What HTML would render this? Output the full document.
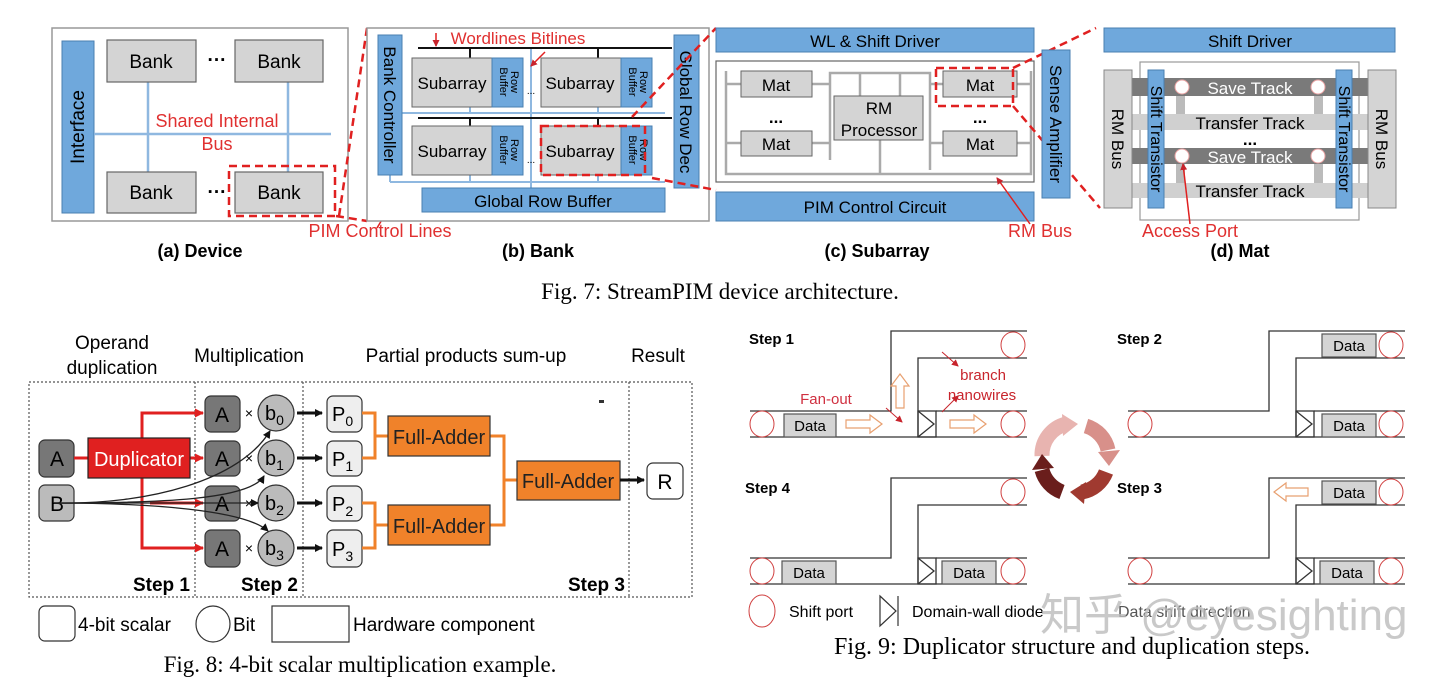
<!DOCTYPE html>
<html><head><meta charset="utf-8"><style>
html,body{margin:0;padding:0;background:#fff;}
svg{display:block;font-family:"Liberation Sans","Noto Sans CJK SC",sans-serif;}
</style></head><body>
<svg width="1440" height="681" viewBox="0 0 1440 681" xmlns="http://www.w3.org/2000/svg">
<defs>
<marker id="ab" markerWidth="8" markerHeight="8" refX="7" refY="4" orient="auto" markerUnits="userSpaceOnUse"><path d="M0,0L8,4L0,8z" fill="#111"/></marker>
<marker id="ar" markerWidth="9" markerHeight="9" refX="8" refY="4.5" orient="auto" markerUnits="userSpaceOnUse"><path d="M0,0L9,4.5L0,9z" fill="#e02020"/></marker>
<marker id="ar2" markerWidth="7" markerHeight="7" refX="6" refY="3.5" orient="auto" markerUnits="userSpaceOnUse"><path d="M0,0L7,3.5L0,7z" fill="#c8242c"/></marker>
</defs>
<!-- ===== (a) Device ===== -->
<rect x="52" y="28" width="296" height="193" fill="#fff" stroke="#999" stroke-width="1.5"/>
<rect x="62" y="41" width="32" height="172" fill="#6fa8dc" stroke="#4a7fb0"/>
<text transform="translate(84,127) rotate(-90)" text-anchor="middle" font-size="19">Interface</text>
<g stroke="#8fb8e0" stroke-width="2.5"><line x1="94" y1="134" x2="331" y2="134"/><line x1="148" y1="82" x2="148" y2="172"/><line x1="288" y1="82" x2="288" y2="172"/></g>
<g fill="#d4d4d4" stroke="#666" stroke-width="1.2">
<rect x="107" y="40" width="89" height="42"/><rect x="235" y="40" width="88" height="42"/>
<rect x="107" y="172" width="89" height="41"/><rect x="235" y="172" width="88" height="41"/></g>
<g font-size="19" text-anchor="middle"><text x="151" y="68">Bank</text><text x="279" y="68">Bank</text><text x="151" y="199">Bank</text><text x="279" y="199">Bank</text>
<text x="217" y="66" font-weight="bold">···</text><text x="217" y="198" font-weight="bold">···</text></g>
<text x="217" y="127" text-anchor="middle" font-size="18" fill="#e03030">Shared Internal</text>
<text x="217" y="150" text-anchor="middle" font-size="18" fill="#e03030">Bus</text>
<rect x="229" y="166" width="106" height="50" fill="none" stroke="#e02020" stroke-width="2.5" stroke-dasharray="8,5"/>
<g stroke="#e02020" stroke-width="2.5" stroke-dasharray="8,5" fill="none"><line x1="367" y1="28" x2="339" y2="216"/><line x1="336" y1="216" x2="367" y2="221"/></g>
<text x="380" y="237" text-anchor="middle" font-size="18" fill="#e03030">PIM Control Lines</text>
<line x1="377" y1="228" x2="404" y2="183" stroke="#e02020" stroke-width="1.5" marker-end="url(#ar2)"/>
<text x="200" y="257" text-anchor="middle" font-size="18" font-weight="bold">(a) Device</text>
<!-- ===== (b) Bank ===== -->
<rect x="367" y="28" width="342" height="193" fill="#fff" stroke="#999" stroke-width="1.5"/>
<g stroke="#8fb8e0" stroke-width="2"><line x1="402" y1="113" x2="665" y2="113"/><line x1="390" y1="175" x2="390" y2="182"/><line x1="390" y1="182" x2="665" y2="182"/><line x1="531" y1="48" x2="531" y2="188"/><line x1="470" y1="107" x2="470" y2="113"/><line x1="598" y1="107" x2="598" y2="113"/><line x1="470" y1="175" x2="470" y2="182"/><line x1="598" y1="175" x2="598" y2="182"/></g>
<rect x="378" y="35" width="24" height="140" fill="#6fa8dc" stroke="#4a7fb0"/>
<text transform="translate(384,105) rotate(90)" text-anchor="middle" font-size="17">Bank Controller</text>
<rect x="674" y="35" width="25" height="153" fill="#6fa8dc" stroke="#4a7fb0"/>
<text transform="translate(680,112) rotate(90)" text-anchor="middle" font-size="17">Global Row Dec</text>
<rect x="422" y="188" width="243" height="24" fill="#6fa8dc" stroke="#4a7fb0"/>
<text x="543" y="207" text-anchor="middle" font-size="17">Global Row Buffer</text>
<g stroke="#111" stroke-width="2"><line x1="418" y1="48" x2="672" y2="48"/><line x1="418" y1="118" x2="672" y2="118"/><line x1="470" y1="48" x2="470" y2="58"/><line x1="598" y1="48" x2="598" y2="58"/><line x1="470" y1="118" x2="470" y2="126"/><line x1="598" y1="118" x2="598" y2="126"/></g>
<g fill="#d4d4d4" stroke="#666"><rect x="412" y="58" width="80" height="49"/><rect x="541" y="58" width="80" height="49"/><rect x="412" y="126" width="80" height="49"/><rect x="541" y="126" width="80" height="49"/></g>
<g fill="#6fa8dc" stroke="#4a7fb0"><rect x="492" y="58" width="31" height="49"/><rect x="621" y="58" width="31" height="49"/><rect x="492" y="126" width="31" height="49"/><rect x="621" y="126" width="31" height="49"/></g>
<g font-size="17" text-anchor="middle"><text x="452" y="89">Subarray</text><text x="580" y="89">Subarray</text><text x="452" y="157">Subarray</text><text x="580" y="157">Subarray</text></g>
<g font-size="11" text-anchor="middle">
<text transform="translate(511,82) rotate(90)">Row</text><text transform="translate(500,82) rotate(90)">Buffer</text>
<text transform="translate(640,82) rotate(90)">Row</text><text transform="translate(629,82) rotate(90)">Buffer</text>
<text transform="translate(511,150) rotate(90)">Row</text><text transform="translate(500,150) rotate(90)">Buffer</text>
<text transform="translate(640,150) rotate(90)">Row</text><text transform="translate(629,150) rotate(90)">Buffer</text></g>
<text x="531" y="94" text-anchor="middle" font-size="10">...</text><text x="531" y="163" text-anchor="middle" font-size="10">...</text>
<text x="518" y="44" text-anchor="middle" font-size="17" fill="#e03030">Wordlines Bitlines</text>
<line x1="436" y1="33" x2="436" y2="46" stroke="#e02020" stroke-width="1.5" marker-end="url(#ar2)"/>
<line x1="545" y1="52" x2="531" y2="66" stroke="#e02020" stroke-width="1.5" marker-end="url(#ar2)"/>
<rect x="541" y="126" width="104" height="49" fill="none" stroke="#e02020" stroke-width="2.5" stroke-dasharray="8,5"/>
<g stroke="#e02020" stroke-width="2.5" stroke-dasharray="8,5" fill="none"><line x1="632" y1="117" x2="716" y2="28"/><line x1="652" y1="178" x2="716" y2="190"/></g>
<text x="538" y="257" text-anchor="middle" font-size="18" font-weight="bold">(b) Bank</text>
<!-- ===== (c) Subarray ===== -->
<rect x="716" y="28" width="318" height="24" fill="#6fa8dc" stroke="#4a7fb0"/>
<text x="875" y="47" text-anchor="middle" font-size="17">WL &amp; Shift Driver</text>
<rect x="716" y="61" width="318" height="121" fill="#fff" stroke="#666" stroke-width="1.2"/>
<g stroke="#aaa" stroke-width="2.5" fill="none">
<path d="M726,71V174H1031V71"/><line x1="726" y1="84" x2="741" y2="84"/><line x1="726" y1="143" x2="741" y2="143"/>
<line x1="812" y1="84" x2="830" y2="84"/><line x1="812" y1="143" x2="830" y2="143"/>
<path d="M830,160V73H930V170"/><line x1="860" y1="73" x2="860" y2="96"/><line x1="900" y1="73" x2="900" y2="96"/><line x1="880" y1="140" x2="880" y2="174"/>
<line x1="930" y1="84" x2="943" y2="84"/><line x1="930" y1="143" x2="943" y2="143"/><line x1="1017" y1="84" x2="1031" y2="84"/><line x1="1017" y1="143" x2="1031" y2="143"/></g>
<g fill="#d4d4d4" stroke="#666"><rect x="741" y="71" width="71" height="26"/><rect x="741" y="131" width="71" height="25"/><rect x="943" y="71" width="74" height="26"/><rect x="943" y="131" width="74" height="25"/><rect x="834" y="96" width="89" height="44"/></g>
<g font-size="17" text-anchor="middle"><text x="776" y="91">Mat</text><text x="776" y="150">Mat</text><text x="980" y="91">Mat</text><text x="980" y="150">Mat</text><text x="879" y="114">RM</text><text x="879" y="136">Processor</text>
<text x="776" y="123" font-weight="bold">...</text><text x="980" y="123" font-weight="bold">...</text></g>
<rect x="936" y="68" width="77" height="38" fill="none" stroke="#e02020" stroke-width="2.5" stroke-dasharray="8,5"/>
<g stroke="#e02020" stroke-width="2.5" stroke-dasharray="8,5" fill="none"><line x1="1013" y1="68" x2="1096" y2="28"/><line x1="1013" y1="106" x2="1100" y2="208"/></g>
<rect x="716" y="192" width="318" height="29" fill="#6fa8dc" stroke="#4a7fb0"/>
<text x="875" y="213" text-anchor="middle" font-size="17">PIM Control Circuit</text>
<rect x="1042" y="50" width="28" height="148" fill="#6fa8dc" stroke="#4a7fb0"/>
<text transform="translate(1050,124) rotate(90)" text-anchor="middle" font-size="17">Sense Amplifier</text>
<text x="1040" y="237" text-anchor="middle" font-size="18" fill="#e03030">RM Bus</text>
<line x1="1030" y1="224" x2="997" y2="178" stroke="#e02020" stroke-width="1.5" marker-end="url(#ar2)"/>
<text x="877" y="257" text-anchor="middle" font-size="18" font-weight="bold">(c) Subarray</text>
<!-- ===== (d) Mat ===== -->
<rect x="1104" y="28" width="291" height="24" fill="#6fa8dc" stroke="#4a7fb0"/>
<text x="1250" y="47" text-anchor="middle" font-size="17">Shift Driver</text>
<rect x="1140" y="62" width="219" height="158" fill="#fff" stroke="#999" stroke-width="1.2"/>
<g fill="#bbb"><rect x="1176" y="96" width="9" height="18"/><rect x="1314" y="96" width="9" height="18"/><rect x="1176" y="164" width="9" height="19"/><rect x="1314" y="164" width="9" height="19"/></g>
<g fill="#7a7a7a"><rect x="1132" y="78" width="236" height="18"/><rect x="1132" y="148" width="236" height="16"/></g>
<g fill="#d0d0d0"><rect x="1132" y="114" width="236" height="16"/><rect x="1132" y="183" width="236" height="15"/></g>
<rect x="1104" y="70" width="28" height="138" fill="#d4d4d4" stroke="#888"/>
<rect x="1368" y="70" width="28" height="138" fill="#d4d4d4" stroke="#888"/>
<rect x="1148" y="70" width="16" height="138" fill="#6fa8dc" stroke="#4a7fb0"/>
<rect x="1336" y="70" width="16" height="138" fill="#6fa8dc" stroke="#4a7fb0"/>
<g fill="#fff" stroke="#e8a0a0"><circle cx="1182" cy="87" r="7"/><circle cx="1318" cy="87" r="7"/><circle cx="1182" cy="156" r="7"/><circle cx="1318" cy="156" r="7"/></g>
<g font-size="17" text-anchor="middle"><text x="1250" y="94" fill="#fff">Save Track</text><text x="1250" y="163" fill="#fff">Save Track</text><text x="1250" y="129">Transfer Track</text><text x="1250" y="197">Transfer Track</text><text x="1250" y="145" font-weight="bold">...</text></g>
<g font-size="16" text-anchor="middle"><text transform="translate(1151,139) rotate(90)">Shift Transistor</text><text transform="translate(1339,139) rotate(90)">Shift Transistor</text>
<text transform="translate(1112,139) rotate(90)" font-size="17">RM Bus</text><text transform="translate(1376,139) rotate(90)" font-size="17">RM Bus</text></g>
<text x="1190" y="237" text-anchor="middle" font-size="18" fill="#e03030">Access Port</text>
<line x1="1190" y1="224" x2="1183" y2="164" stroke="#e02020" stroke-width="1.5" marker-end="url(#ar2)"/>
<text x="1240" y="257" text-anchor="middle" font-size="18" font-weight="bold">(d) Mat</text>
<text x="720" y="299" text-anchor="middle" font-size="23" font-family="Liberation Serif, serif">Fig. 7: StreamPIM device architecture.</text>

<!-- ===== Fig 8 ===== -->
<g font-size="19" text-anchor="middle"><text x="112" y="349">Operand</text><text x="112" y="374">duplication</text><text x="249" y="362">Multiplication</text><text x="466" y="362">Partial products sum-up</text><text x="658" y="362">Result</text></g>
<g stroke="#555" stroke-width="1.2" stroke-dasharray="2,2" fill="none"><rect x="29" y="382" width="663" height="215"/><line x1="195" y1="382" x2="195" y2="597"/><line x1="303" y1="382" x2="303" y2="597"/><line x1="629" y1="382" x2="629" y2="597"/></g>
<rect x="39" y="440" width="35" height="37" rx="6" fill="#777" stroke="#333" stroke-width="1.2"/>
<rect x="39" y="485" width="35" height="36" rx="6" fill="#bbb" stroke="#333" stroke-width="1.2"/>
<g font-size="21" text-anchor="middle"><text x="57" y="466">A</text><text x="57" y="511">B</text></g>
<g stroke="#e02020" stroke-width="3" fill="none"><line x1="74" y1="458" x2="88" y2="458"/><path d="M142,438V413H203" marker-end="url(#ar)"/><path d="M142,478V548H203" marker-end="url(#ar)"/><line x1="190" y1="458" x2="203" y2="458" marker-end="url(#ar)"/><line x1="150" y1="503" x2="203" y2="503" marker-end="url(#ar)"/></g>
<rect x="88" y="438" width="102" height="40" fill="#e02020" stroke="#222" stroke-width="1.2"/>
<text x="139" y="466" text-anchor="middle" font-size="20" fill="#fff">Duplicator</text>
<g fill="#777" stroke="#333" stroke-width="1.2"><rect x="205" y="396" width="35" height="36" rx="6"/><rect x="205" y="441" width="35" height="35" rx="6"/><rect x="205" y="486" width="35" height="35" rx="6"/><rect x="205" y="530" width="35" height="37" rx="6"/></g>
<g font-size="21" text-anchor="middle"><text x="222" y="422">A</text><text x="222" y="466">A</text><text x="222" y="511">A</text><text x="222" y="556">A</text></g>
<g font-size="14" text-anchor="middle"><text x="249" y="418">×</text><text x="249" y="463">×</text><text x="249" y="508">×</text><text x="249" y="553">×</text></g>
<g fill="#bbb" stroke="#333" stroke-width="1.2"><circle cx="276" cy="413" r="18"/><circle cx="276" cy="458" r="18"/><circle cx="276" cy="503" r="18"/><circle cx="276" cy="548" r="18"/></g>
<g font-size="20"><text x="265" y="420">b<tspan font-size="14" dy="5">0</tspan></text><text x="265" y="465">b<tspan font-size="14" dy="5">1</tspan></text><text x="265" y="510">b<tspan font-size="14" dy="5">2</tspan></text><text x="265" y="555">b<tspan font-size="14" dy="5">3</tspan></text></g>
<g stroke="#222" stroke-width="1.3" fill="none"><path d="M54,503C150,505 240,480 270,431" marker-end="url(#ab)"/><path d="M54,503C160,503 250,500 264,476" marker-end="url(#ab)"/><line x1="54" y1="503" x2="258" y2="503" marker-end="url(#ab)"/><path d="M54,503C150,503 245,510 268,531" marker-end="url(#ab)"/></g>
<g stroke="#111" stroke-width="3"><line x1="297" y1="413" x2="322" y2="413" marker-end="url(#ab)"/><line x1="297" y1="458" x2="322" y2="458" marker-end="url(#ab)"/><line x1="297" y1="503" x2="322" y2="503" marker-end="url(#ab)"/><line x1="297" y1="548" x2="322" y2="548" marker-end="url(#ab)"/></g>
<g fill="#eee" stroke="#333" stroke-width="1.2"><rect x="327" y="396" width="35" height="36" rx="6"/><rect x="327" y="441" width="35" height="35" rx="6"/><rect x="327" y="486" width="35" height="35" rx="6"/><rect x="327" y="530" width="35" height="37" rx="6"/></g>
<g font-size="20"><text x="332" y="421">P<tspan font-size="14" dy="5">0</tspan></text><text x="332" y="466">P<tspan font-size="14" dy="5">1</tspan></text><text x="332" y="511">P<tspan font-size="14" dy="5">2</tspan></text><text x="332" y="556">P<tspan font-size="14" dy="5">3</tspan></text></g>
<g stroke="#f0822a" stroke-width="3" fill="none"><path d="M362,413H375V458H362"/><line x1="375" y1="436" x2="388" y2="436"/><path d="M362,503H375V548H362"/><line x1="375" y1="525" x2="388" y2="525"/><path d="M490,436H504V525H490"/><line x1="504" y1="480" x2="517" y2="480"/></g>
<g fill="#f0822a" stroke="#333" stroke-width="1.2"><rect x="388" y="416" width="102" height="40"/><rect x="388" y="505" width="102" height="40"/><rect x="517" y="461" width="103" height="39"/></g>
<g font-size="20" text-anchor="middle" fill="#222"><text x="439" y="444">Full-Adder</text><text x="439" y="533">Full-Adder</text><text x="568" y="488">Full-Adder</text></g>
<line x1="620" y1="480" x2="644" y2="480" stroke="#111" stroke-width="3" marker-end="url(#ab)"/>
<rect x="647" y="463" width="36" height="36" rx="6" fill="#fff" stroke="#333" stroke-width="1.2"/>
<text x="665" y="489" text-anchor="middle" font-size="21">R</text>
<rect x="599" y="400" width="5" height="3" fill="#333"/>
<g font-size="19" font-weight="bold" text-anchor="end"><text x="190" y="591">Step 1</text><text x="298" y="591">Step 2</text><text x="625" y="591">Step 3</text></g>
<rect x="39" y="606" width="36" height="35" rx="6" fill="#fff" stroke="#333" stroke-width="1.2"/>
<text x="78" y="631" font-size="19">4-bit scalar</text>
<ellipse cx="213" cy="624" rx="17" ry="18" fill="#fff" stroke="#333" stroke-width="1.2"/>
<text x="233" y="631" font-size="19">Bit</text>
<rect x="272" y="606" width="77" height="36" fill="#fff" stroke="#333" stroke-width="1.2"/>
<text x="353" y="631" font-size="19">Hardware component</text>
<text x="360" y="672" text-anchor="middle" font-size="23" font-family="Liberation Serif, serif">Fig. 8: 4-bit scalar multiplication example.</text>

<!-- ===== Fig 9 ===== -->
<g id="nw">
<g stroke="#333" stroke-width="1.3" fill="none"><path d="M750,411H891V331H1027"/><line x1="750" y1="437" x2="1027" y2="437"/><path d="M918,437V358H1027"/><path d="M936,411H1027"/><rect x="918" y="411" width="18" height="26"/><path d="M918,411L934,424L918,437"/></g>
<g fill="#fff" stroke="#d04040" stroke-width="1"><ellipse cx="762" cy="424" rx="12" ry="13"/><ellipse cx="1013" cy="424" rx="12" ry="13"/><ellipse cx="1013" cy="345" rx="12" ry="13"/></g>
</g>
<use href="#nw" x="378" y="0"/>
<use href="#nw" x="378" y="147"/>
<use href="#nw" x="0" y="147"/>
<g font-size="15" font-weight="bold"><text x="749" y="344">Step 1</text><text x="1117" y="344">Step 2</text><text x="745" y="493">Step 4</text><text x="1117" y="493">Step 3</text></g>
<g fill="#d4d4d4" stroke="#555" stroke-width="1.2"><rect x="784" y="414" width="52" height="23"/><rect x="1322" y="334" width="54" height="23"/><rect x="1322" y="414" width="54" height="23"/><rect x="1322" y="481" width="54" height="23"/><rect x="1320" y="561" width="54" height="23"/><rect x="782" y="561" width="54" height="23"/><rect x="942" y="561" width="54" height="23"/></g>
<g font-size="15" text-anchor="middle"><text x="810" y="431">Data</text><text x="1349" y="351">Data</text><text x="1349" y="431">Data</text><text x="1349" y="498">Data</text><text x="1347" y="578">Data</text><text x="809" y="578">Data</text><text x="969" y="578">Data</text></g>
<g fill="#fff" stroke="#e8a070" stroke-width="1.2"><path d="M846,420H870V415L882,424L870,433V428H846Z"/><path d="M950,420H974V415L986,424L974,433V428H950Z"/><path d="M896,408V386H891L900,374L909,386H904V408Z"/><path d="M1308,488H1286V483L1274,492L1286,501V496H1308Z"/></g>
<text x="826" y="404" text-anchor="middle" font-size="15" fill="#d03040">Fan-out</text>
<text x="983" y="380" text-anchor="middle" font-size="15" fill="#c8242c">branch</text>
<text x="982" y="400" text-anchor="middle" font-size="15" fill="#c8242c">nanowires</text>
<g stroke="#c8242c" stroke-width="1" marker-end="url(#ar2)"><line x1="886" y1="408" x2="902" y2="422"/><line x1="942" y1="352" x2="958" y2="366"/><line x1="942" y1="412" x2="958" y2="396"/></g>
<!-- cycle -->
<g stroke-width="15" fill="none">
<path d="M1042,456A32,32 0 0 1 1066,424" stroke="#e8b4b0"/>
<path d="M1086,426A32,32 0 0 1 1108,450" stroke="#d8908a"/>
<path d="M1106,472A32,32 0 0 1 1082,492" stroke="#a03a30"/>
<path d="M1062,492A32,32 0 0 1 1042,470" stroke="#6a1e1c"/></g>
<g><path d="M1062,414L1078,424L1063,436Z" fill="#e8b4b0"/><path d="M1098,452L1109,466L1120,450Z" fill="#d8908a"/><path d="M1086,482L1070,492L1084,504Z" fill="#a03a30"/><path d="M1032,470L1042,454L1054,468Z" fill="#6a1e1c"/></g>
<!-- legend -->
<ellipse cx="762" cy="611" rx="13" ry="16" fill="#fff" stroke="#d04040"/>
<text x="789" y="617" font-size="16">Shift port</text>
<g stroke="#333" stroke-width="1.2" fill="none"><path d="M880,596L896,611L880,626Z"/><line x1="898" y1="596" x2="898" y2="626"/></g>
<text x="912" y="617" font-size="16">Domain-wall diode</text>
<text x="1118" y="617" font-size="16" fill="#555">Data shift direction</text>
<text x="1040" y="630" font-size="44" fill="#bbb" fill-opacity="0.8" font-family="Liberation Sans, Noto Sans CJK SC, sans-serif">知乎 @eyesighting</text>
<text x="1072" y="654" text-anchor="middle" font-size="24" font-family="Liberation Serif, serif">Fig. 9: Duplicator structure and duplication steps.</text>
</svg>
</body></html>
